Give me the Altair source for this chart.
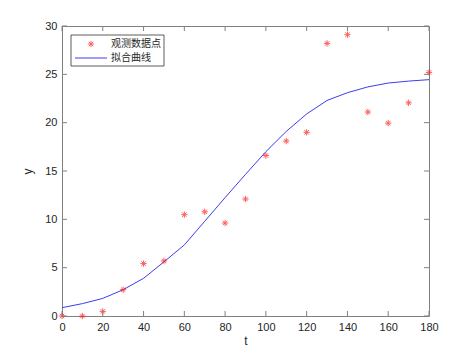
import altair as alt
import pandas as pd

t = [0, 10, 20, 30, 40, 50, 60, 70, 80, 90, 100, 110, 120, 130, 140, 150, 160, 170, 180]
observed = [0, 0, 0.48, 2.72, 5.42, 5.69, 10.48, 10.78, 9.62, 12.1, 16.6, 18.1, 19.0,
            28.2, 29.1, 21.1, 19.95, 22.05, 25.2]
fitted = [0.86, 1.28, 1.82, 2.72, 3.9, 5.6, 7.35, 9.8, 12.25, 14.65, 17.0, 19.1, 20.9,
          22.3, 23.1, 23.7, 24.1, 24.3, 24.45]
series_names = ["观测数据点", "拟合曲线"]
series_colors = ["#ff1a1a", "#3c3cf0"]
x_ticks = [0, 20, 40, 60, 80, 100, 120, 140, 160, 180]
y_ticks = [0, 5, 10, 15, 20, 25, 30]

pts = pd.DataFrame({"t": t, "v": observed})
fit = pd.DataFrame({"t": t, "v": fitted})
xt = pd.DataFrame({"tick": x_ticks})
yt = pd.DataFrame({"tick": y_ticks})

AST = "M0,-1L0,1M-1,0L1,0M-0.7,-0.7L0.7,0.7M-0.7,0.7L0.7,-0.7"

AX = "#808080"
LBL = "#262626"
FONT = "Liberation Sans"
CJK = "Noto Sans CJK SC"
W, H = 367, 290
TL = 5  # inward tick length

xscale = alt.Scale(domain=[0, 180], nice=False)
yscale = alt.Scale(domain=[0, 30], nice=False)

common_axis = dict(domainColor=AX, domainWidth=1, ticks=False, grid=False,
                   labelFlush=False, labelOverlap=False)

points = alt.Chart(pts).mark_point(shape=AST, size=40, filled=False, strokeWidth=1,
                                   stroke=series_colors[0]).encode(
    x=alt.X("t:Q", scale=xscale, title="t",
            axis=alt.Axis(orient="bottom", values=x_ticks, labelFont=FONT, labelFontSize=11,
                          labelColor=LBL, labelPadding=5, titleFont=FONT, titleFontSize=12,
                          titleFontWeight="normal", titleColor=LBL, titlePadding=3,
                          **common_axis)),
    y=alt.Y("v:Q", scale=yscale, title="y",
            axis=alt.Axis(orient="left", values=y_ticks, labelFont=FONT, labelFontSize=11,
                          labelColor=LBL, labelPadding=5, titleFont=FONT, titleFontSize=12,
                          titleFontWeight="normal", titleColor=LBL, titlePadding=10,
                          **common_axis)),
)

line = alt.Chart(fit).mark_line(strokeWidth=1, stroke=series_colors[1]).encode(
    x=alt.X("t:Q", scale=xscale, title=None,
            axis=alt.Axis(orient="top", values=x_ticks, labels=False, **common_axis)),
    y=alt.Y("v:Q", scale=yscale, title=None,
            axis=alt.Axis(orient="right", values=y_ticks, labels=False, **common_axis)),
)

# inward ticks on all four sides (MATLAB box style)
def xticks_at(ypos):
    return alt.Chart(xt).mark_tick(orient="vertical", size=TL, thickness=1, color=AX, opacity=1).encode(
        x=alt.X("tick:Q", scale=xscale, axis=None), y=alt.value(ypos))

def yticks_at(xpos):
    return alt.Chart(yt).mark_tick(orient="horizontal", size=TL, thickness=1, color=AX, opacity=1).encode(
        y=alt.Y("tick:Q", scale=yscale, axis=None), x=alt.value(xpos))

ticks = [xticks_at(H - TL / 2), xticks_at(TL / 2), yticks_at(TL / 2), yticks_at(W - TL / 2)]

# legend (drawn inside the plot, top-left)
leg_df = pd.DataFrame({"label": series_names})
leg_box = alt.Chart(leg_df.head(1)).mark_rect(fill="white", stroke="#333333", strokeWidth=0.8).encode(
    x=alt.value(9), x2=alt.value(102), y=alt.value(9), y2=alt.value(40))
leg_sym = alt.Chart(leg_df.head(1)).mark_point(shape=AST, size=40, filled=False, strokeWidth=1,
                                               stroke=series_colors[0]).encode(
    x=alt.value(29), y=alt.value(18))
leg_line = alt.Chart(leg_df.head(1)).mark_rule(stroke=series_colors[1], strokeWidth=1).encode(
    x=alt.value(13), x2=alt.value(45), y=alt.value(32))
leg_txt1 = alt.Chart(leg_df.head(1)).mark_text(align="left", baseline="middle", font=CJK,
                                               fontSize=10, color=LBL).encode(
    x=alt.value(49), y=alt.value(18), text="label:N")
leg_txt2 = alt.Chart(leg_df.tail(1)).mark_text(align="left", baseline="middle", font=CJK,
                                               fontSize=10, color=LBL).encode(
    x=alt.value(49), y=alt.value(32), text="label:N")

chart = alt.layer(line, points, *ticks, leg_box, leg_sym, leg_line, leg_txt1, leg_txt2).resolve_axis(
    x="independent", y="independent").properties(
    width=W, height=H,
    autosize=alt.AutoSizeParams(type="none"),
    padding={"left": 54, "top": 18, "right": 37, "bottom": 31},
    background="white",
).configure_view(stroke=None)

chart.save("out.html", embed_options={"renderer": "svg", "actions": False})
